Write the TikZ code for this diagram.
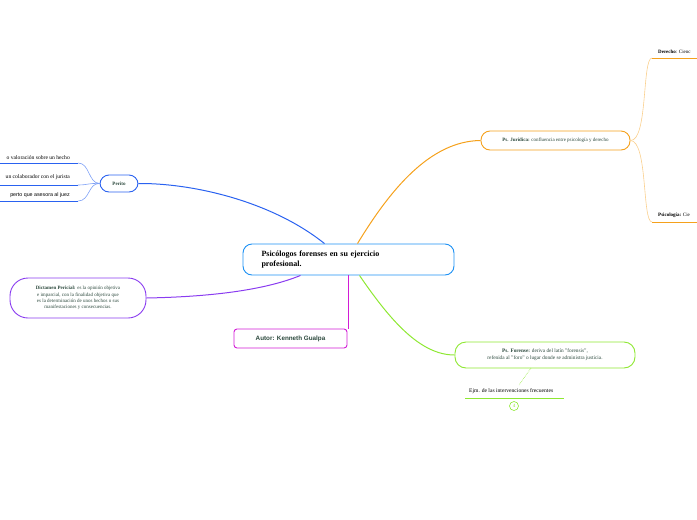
\documentclass[tikz,border=0pt]{standalone}
\usepackage{fontspec}
\setmainfont{Liberation Serif}
\newfontfamily\sansf{Liberation Sans}
\definecolor{txt}{HTML}{2D4A3E}
\definecolor{cblue}{HTML}{2A62F0}
\definecolor{cpurp}{HTML}{8A3CF0}
\definecolor{cmag}{HTML}{D21CD6}
\definecolor{corg}{HTML}{F5A11C}
\definecolor{cgrn}{HTML}{8EE832}
\begin{document}
\begin{tikzpicture}[x=1pt,y=-1pt,
  box/.style={draw,rounded corners=9pt,line width=0.9pt,fill=white,align=center,text=txt,inner sep=3pt},
  tiny/.style={font=\fontsize{5}{6.5}\selectfont},
  link/.style={line width=1pt},
  leaf/.style={anchor=south east,inner sep=1pt,font=\fontsize{5.6}{6.5}\selectfont,text=black}]
\useasboundingbox (0,0) rectangle (697,520);
% central
\node[box,draw=cblue!70!cyan,minimum width=211pt,minimum height=31pt,text width=190pt,align=left,text=black,font=\fontsize{8}{10}\selectfont\bfseries] (c) at (348.5,259.5) {\hspace*{8pt}Psicólogos forenses en su ejercicio\\\hspace*{8pt}profesional.};
% Perito
\node[box,draw=cblue,minimum width=38pt,minimum height=17pt,font=\fontsize{5}{6}\selectfont\bfseries] (p) at (119,183.5) {Perito};
\draw[cblue,link] (c.north)+(-24,0) coordinate (c1) .. controls (270,200) and (190,183) .. (p.east);
\coordinate (l1) at (78,163); \coordinate (l2) at (78,185); \coordinate (l3) at (78,201);
\draw[cblue!60,line width=0.6pt] (p.west) .. controls (88,183) and (90,163) .. (l1);
\draw[cblue!60,line width=0.6pt] (p.west) .. controls (88,183) and (88,185) .. (l2);
\draw[cblue!60,line width=0.6pt] (p.west) .. controls (88,183) and (90,201) .. (l3);
\draw[cblue,line width=1pt] (l1) -- (-5,163);
\draw[cblue,line width=1pt] (l2) -- (-5,185);
\draw[cblue,line width=1pt] (l3) -- (-5,201);
\node[leaf] (tx1) at (71,161) {o valoración sobre un hecho};
\node[leaf] (tx2) at (71,181) {un colaborador con el jurista};
\node[leaf,font=\sansf\fontsize{5.3}{6}\selectfont] (tx3) at (71,199) {perto que asesora al juez};
% Dictamen
\node[box,draw=cpurp,rounded corners=18pt,minimum width=136pt,minimum height=40pt,font=\fontsize{5}{6.4}\selectfont] (d) at (78,298) {\textbf{Dictamen Pericial:} es la opinión objetiva\\e imparcial, con la finalidad objetiva que\\es la determinación de unos hechos o sus\\manifestaciones y consecuencias.};
\draw[cpurp,link] (c.south)+(-48,0) coordinate (c2) .. controls (260,292) and (200,297) .. (d.east);
% Autor
\node[box,draw=cmag,rounded corners=3pt,minimum width=113pt,minimum height=19pt,font=\sansf\fontsize{6.3}{7}\selectfont\bfseries] (a) at (290.5,338.5) {Autor: Kenneth Gualpa};
\draw[cmag,link] (348,275) -- (348,329);
% Ps Juridica
\node[box,draw=corg,minimum width=149pt,minimum height=19pt,font=\fontsize{5}{6}\selectfont] (j) at (555.5,140.5) {\textbf{Ps. Jurídica:} confluencia entre psicología y derecho};
\draw[corg,link] (c.north)+(9,0) coordinate (c3) .. controls (390,190) and (430,141) .. (j.west);
\coordinate (r1) at (652,58); \coordinate (r2) at (652,222);
\draw[corg!50,line width=0.6pt] (j.east) .. controls (648,141) and (642,58) .. (r1);
\draw[corg!50,line width=0.6pt] (j.east) .. controls (648,141) and (642,222) .. (r2);
\draw[corg,line width=1pt] (r1) -- (705,58);
\draw[corg,line width=1pt] (r2) -- (705,222);
\node[leaf,anchor=south west,font=\fontsize{5}{6}\selectfont] (dr) at (657,55) {\textbf{Derecho}: Cienc};
\node[leaf,anchor=south west,font=\fontsize{5}{6}\selectfont] (ps) at (657,219) {\textbf{Psicología:} Cie};
% Ps Forense
\node[box,draw=cgrn,rounded corners=11pt,minimum width=180pt,minimum height=26pt,font=\fontsize{5.3}{6.7}\selectfont] (f) at (545,355) {\textbf{Ps. Forense:} deriva del latín "forensis",\\refenida al "foro" o lugar donde se administra justicia.};
\draw[cgrn,link] (c.south)+(11,0) coordinate (c4) .. controls (390,320) and (420,355) .. (f.west);
\coordinate (e1) at (519,385);
\draw[cgrn,densely dotted,line width=0.6pt] (531,368) -- (e1);
\draw[cgrn,line width=1pt] (465,398) -- (564,398);
\node[leaf,anchor=south west] (ej) at (468,395) {Ejm. de las intervenciones frecuentes};
\node[circle,draw=cgrn,line width=0.6pt,inner sep=0pt,minimum size=9pt,text=cgrn,font=\fontsize{5}{5}\selectfont] (n4) at (514,406) {4};
\end{tikzpicture}
\end{document}
